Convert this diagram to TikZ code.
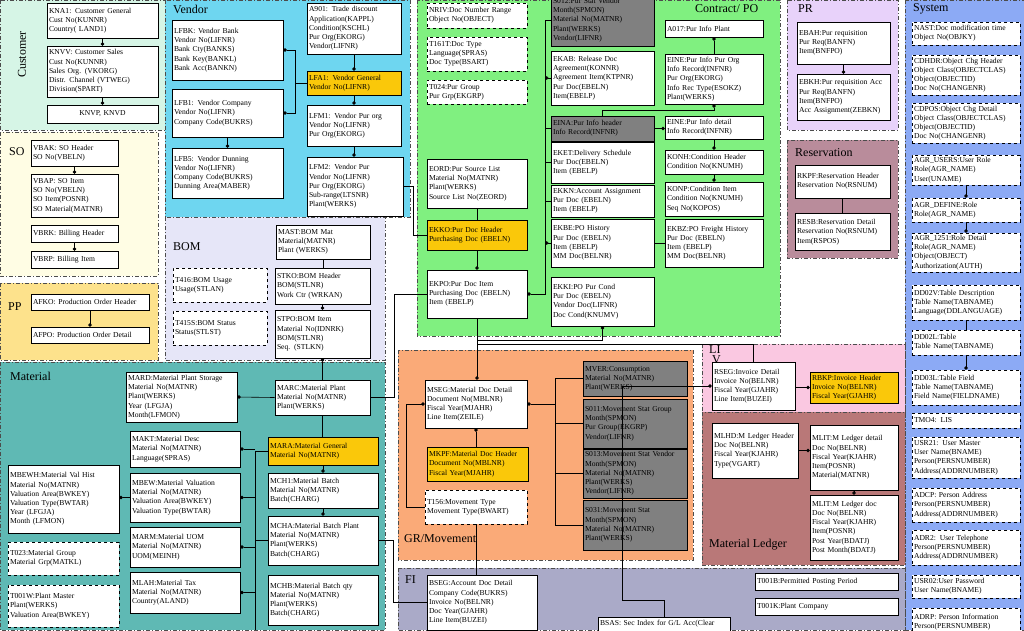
\documentclass[tikz,border=0pt]{standalone}
\usepackage{fontspec}
\setmainfont{Liberation Serif}
\usetikzlibrary{arrows.meta,positioning}
\definecolor{custc}{RGB}{214,245,230}
\definecolor{soc}{RGB}{255,253,228}
\definecolor{ppc}{RGB}{253,226,140}
\definecolor{vendc}{RGB}{110,214,240}
\definecolor{bomc}{RGB}{230,230,248}
\definecolor{poc}{RGB}{128,240,128}
\definecolor{prc}{RGB}{232,210,250}
\definecolor{resc}{RGB}{185,140,155}
\definecolor{sysc}{RGB}{140,170,245}
\definecolor{matc}{RGB}{95,185,180}
\definecolor{grc}{RGB}{250,170,120}
\definecolor{livc}{RGB}{250,200,225}
\definecolor{mlc}{RGB}{185,120,120}
\definecolor{fic}{RGB}{170,170,200}
\definecolor{keyc}{RGB}{250,200,10}
\definecolor{statc}{RGB}{128,128,128}

\begin{document}
\begin{tikzpicture}[x=1pt,y=-1pt,
  zone/.style={draw=black!70,line width=.6pt,dash pattern=on 4pt off 2pt on 1pt off 2pt},
  zlabel/.style={anchor=west,inner sep=0pt,font=\fontsize{12}{13}\selectfont},
  tbl/.style={draw,fill=white,line width=.6pt,align=left,inner xsep=2pt,inner ysep=1pt,
    font=\fontsize{7.6}{9.2}\selectfont},
  sz/.style 2 args={text width=#1pt-4pt,minimum height=#2pt},
  chk/.style={tbl,dashed},
  key/.style={tbl,fill=keyc},
  stat/.style={tbl,fill=statc},
  link/.style={draw,line width=.6pt},
  dot/.style={link,-{Circle[length=3.5pt]}},
  tod/.style={link,{Circle[length=3.5pt]}-}]
\useasboundingbox (0,0) rectangle (1024,630);
\fill[white] (0,0) rectangle (1024,630);

% areas
\draw[zone,fill=custc] (0,0) rectangle (165,130);
\draw[zone,fill=soc] (0,132) rectangle (158,276);
\draw[zone,fill=ppc] (0,283) rectangle (158,360);
\draw[zone,fill=vendc] (165,0) rectangle (410,217);
\draw[zone,fill=bomc] (165,217) rectangle (385,360);
\draw[zone,fill=poc] (417,0) rectangle (780,336);
\draw[zone,fill=prc] (787,0) rectangle (898,130);
\draw[zone,fill=resc] (787,140) rectangle (898,258);
\draw[zone,fill=sysc] (905,0) rectangle (1024,630);
\draw[zone,fill=matc] (0,362) rectangle (385,630);
\draw[zone,fill=grc] (398,350) rectangle (693,560);
\draw[zone,fill=livc] (702,344) rectangle (905,412);
\draw[zone,fill=mlc] (702,412) rectangle (905,565);
\draw[zone,fill=fic] (398,568) rectangle (905,630);

\node[zlabel,rotate=90] at (22,78) {Customer};
\node[zlabel] at (9,152) {SO};
\node[zlabel] at (8,307) {PP};
\node[zlabel] at (173,9) {Vendor};
\node[zlabel] at (173,247) {BOM};
\node[zlabel] at (695,9) {Contract/ PO};
\node[zlabel] at (798,9) {PR};
\node[zlabel] at (795,153) {Reservation};
\node[zlabel] at (913,9) {System};
\node[zlabel] at (10,376) {Material};
\node[zlabel] at (404,539) {GR/Movement};
\node[zlabel,align=left] at (709,355) {LI\\[-3pt]\hspace*{3pt}V};
\node[zlabel] at (709,545) {Material Ledger};
\node[zlabel] at (405,580) {FI};

% Customer, SO, PP
\node[tbl,sz={111}{35}] (kna1) at (102.5,20.5) {KNA1: Customer General\\Cust No(KUNNR)\\Country( LAND1)};
\node[tbl,sz={111}{51}] (knvv) at (102.5,71.5) {KNVV: Customer Sales\\Cust No(KUNNR)\\Sales Org. (VKORG)\\Distr. Channel (VTWEG)\\Division(SPART)};
\node[tbl,sz={111}{18},align=center] (knvp) at (102.5,114) {KNVP, KNVD};
\node[tbl,sz={87}{26}] (vbak) at (74.5,153) {VBAK: SO Header\\SO No(VBELN)};
\node[tbl,sz={87}{43}] (vbap) at (74.5,195.5) {VBAP: SO Item\\SO No(VBELN)\\SO Item(POSNR)\\SO Material(MATNR)};
\node[tbl,sz={87}{17}] (vbrk) at (74.5,233.5) {VBRK: Billing Header};
\node[tbl,sz={87}{17}] (vbrp) at (74.5,259.5) {VBRP: Billing Item};
\node[tbl,sz={118}{16}] (afko) at (90,302) {AFKO: Production Order Header};
\node[tbl,sz={118}{16}] (afpo) at (90,335) {AFPO: Production Order Detail};

% Vendor
\node[tbl,sz={111}{60}] (lfbk) at (227.5,50) {LFBK: Vendor Bank\\Vendor No(LIFNR)\\Bank Cty(BANKS)\\Bank Key(BANKL)\\Bank Acc(BANKN)};
\node[tbl,sz={111}{48}] (lfb1) at (227.5,113) {LFB1: Vendor Company\\Vendor No(LIFNR)\\Company Code(BUKRS)};
\node[tbl,sz={111}{50}] (lfb5) at (227.5,173) {LFB5: Vendor Dunning\\Vendor No(LIFNR)\\Company Code(BUKRS)\\Dunning Area(MABER)};
\node[tbl,sz={94}{51}] (a901) at (354,28.5) {A901: Trade discount\\Application(KAPPL)\\Condition(KSCHL)\\Pur Org(EKORG)\\Vendor(LIFNR)};
\node[key,sz={94}{24}] (lfa1) at (354,83) {LFA1: Vendor General\\Vendor No(LIFNR)};
\node[tbl,sz={94}{41}] (lfm1) at (354,125.5) {LFM1: Vendor Pur org\\Vendor No(LIFNR)\\Pur Org(EKORG)};
\node[tbl,sz={96}{59}] (lfm2) at (355,186.5) {LFM2: Vendor Pur\\Vendor No(LIFNR)\\Pur Org(EKORG)\\Sub-range(LTSNR)\\Plant(WERKS)};

% BOM
\node[tbl,sz={94}{34}] (mast) at (323,242) {MAST:BOM Mat\\Material(MATNR)\\Plant (WERKS)};
\node[tbl,sz={95}{36}] (stko) at (322.5,286) {STKO:BOM Header\\BOM(STLNR)\\Work Ctr (WRKAN)};
\node[tbl,sz={95}{48}] (stpo) at (322.5,334) {STPO:BOM Item\\Material No(IDNRK)\\BOM(STLNR)\\Seq. (STLKN)};
\node[chk,sz={94}{34}] (t416) at (220,285) {T416:BOM Usage\\Usage(STLAN)};
\node[chk,sz={94}{34}] (t415s) at (220,328) {T415S:BOM Status\\Status(STLST)};

% Contract / PO
\node[chk,sz={100}{25}] (nriv) at (477,15.5) {NRIV:Doc Number Range\\Object No(OBJECT)};
\node[chk,sz={100}{34}] (t161t) at (477,54) {T161T:Doc Type\\Language(SPRAS)\\Doc Type(BSART)};
\node[chk,sz={100}{24}] (t024) at (477,92) {T024:Pur Group\\Pur Grp(EKGRP)};
\node[tbl,sz={100}{49}] (eord) at (477,183.5) {EORD:Pur Source List\\Material No(MATNR)\\Plant(WERKS)\\Source List No(ZEORD)};
\node[key,sz={100}{30}] (ekko) at (477,235) {EKKO:Pur Doc Header\\Purchasing Doc (EBELN)};
\node[tbl,sz={100}{48}] (ekpo) at (477,294) {EKPO:Pur Doc Item\\Purchasing Doc (EBELN)\\Item (EBELP)};
\node[stat,sz={103}{52}] (s012) at (602.5,20) {S012:Pur Stat Vendor\\Month(SPMON)\\Material No(MATNR)\\Plant(WERKS)\\Vendor(LIFNR)};
\node[tbl,sz={103}{54}] (ekab) at (602.5,78) {EKAB: Release Doc\\Agreement(KONNR)\\Agreement Item(KTPNR)\\Pur Doc(EBELN)\\Item(EBELP)};
\node[stat,sz={103}{25}] (eina) at (602.5,128.5) {EINA:Pur Info header\\Info Record(INFNR)};
\node[tbl,sz={103}{41}] (eket) at (602.5,162.5) {EKET:Delivery Schedule\\Pur Doc(EBELN)\\Item (EBELP)};
\node[tbl,sz={103}{32}] (ekkn) at (602.5,201) {EKKN:Account Assignment\\Pur Doc (EBELN)\\Item (EBELP)};
\node[tbl,sz={103}{48}] (ekbe) at (602.5,243) {EKBE:PO History\\Pur Doc (EBELN)\\Item (EBELP)\\MM Doc(BELNR)};
\node[tbl,sz={103}{49}] (ekki) at (602.5,301.5) {EKKI:PO Pur Cond\\Pur Doc (EBELN)\\Vendor Doc(LIFNR)\\Doc Cond(KNUMV)};
\node[tbl,sz={98}{17}] (a017) at (714,28.5) {A017:Pur Info Plant};
\node[tbl,sz={98}{50}] (eine1) at (714,79) {EINE:Pur Info Pur Org\\Info Record(INFNR)\\Pur Org(EKORG)\\Info Rec Type(ESOKZ)\\Plant(WERKS)};
\node[tbl,sz={98}{23}] (eine2) at (714,127.5) {EINE:Pur Info detail\\Info Record(INFNR)};
\node[tbl,sz={98}{24}] (konh) at (714,162) {KONH:Condition Header\\Condition No(KNUMH)};
\node[tbl,sz={98}{34}] (konp) at (714,199) {KONP:Condition Item\\Condition No(KNUMH)\\Seq No(KOPOS)};
\node[tbl,sz={98}{48}] (ekbz) at (714,243) {EKBZ:PO Freight History\\Pur Doc (EBELN)\\Item (EBELP)\\MM Doc(BELNR)};

% PR, Reservation
\node[tbl,sz={93}{42}] (ebah) at (843.5,43) {EBAH:Pur requisition\\Pur Req(BANFN)\\Item(BNFPO)};
\node[tbl,sz={93}{46}] (ebkh) at (843.5,97) {EBKH:Pur requisition Acc\\Pur Req(BANFN)\\Item(BNFPO)\\Acc Assignment(ZEBKN)};
\node[tbl,sz={95}{33}] (rkpf) at (842.5,181.5) {RKPF:Reservation Header\\Reservation No(RSNUM)};
\node[tbl,sz={95}{37}] (resb) at (842.5,232) {RESB:Reservation Detail\\Reservation No(RSNUM)\\Item(RSPOS)};

% System
\node[chk,sz={108}{23}] (nast) at (966,33.5) {NAST:Doc modification time\\Object No(OBJKY)};
\node[chk,sz={108}{40}] (cdhdr) at (966,75) {CDHDR:Object Chg Header\\Object Class(OBJECTCLAS)\\Object(OBJECTID)\\Doc No(CHANGENR)};
\node[chk,sz={108}{40}] (cdpos) at (966,123) {CDPOS:Object Chg Detail\\Object Class(OBJECTCLAS)\\Object(OBJECTID)\\Doc No(CHANGENR)};
\node[chk,sz={108}{30}] (agrusers) at (966,170) {AGR\_USERS:User Role\\Role(AGR\_NAME)\\User(UNAME)};
\node[chk,sz={108}{24}] (agrdefine) at (966,210) {AGR\_DEFINE:Role\\Role(AGR\_NAME)};
\node[chk,sz={108}{39}] (agrauth) at (966,252.5) {AGR\_1251:Role Detail\\Role(AGR\_NAME)\\Object(OBJECT)\\Authorization(AUTH)};
\node[chk,sz={108}{35}] (dd02v) at (966,302.5) {DD02V:Table Description\\Table Name(TABNAME)\\Language(DDLANGUAGE)};
\node[chk,sz={108}{25}] (dd02l) at (966,342.5) {DD02L:Table\\Table Name(TABNAME)};
\node[chk,sz={108}{35}] (dd03l) at (966,387.5) {DD03L:Table Field\\Table Name(TABNAME)\\Field Name(FIELDNAME)};
\node[chk,sz={108}{15}] (tmo4) at (966,420.5) {TMO4: LIS};
\node[chk,sz={108}{41}] (usr21) at (966,457.5) {USR21: User Master\\User Name(BNAME)\\Person(PERSNUMBER)\\Address(ADDRNUMBER)};
\node[chk,sz={108}{34}] (adcp) at (966,505) {ADCP: Person Address\\Person(PERSNUMBER)\\Address(ADDRNUMBER)};
\node[chk,sz={108}{35}] (adr2) at (966,547.5) {ADR2: User Telephone\\Person(PERSNUMBER)\\Address(ADDRNUMBER)};
\node[chk,sz={108}{23}] (usr02) at (966,586.5) {USR02:User Password\\User Name(BNAME)};
\node[chk,sz={108}{28}] (adrp) at (966,622) {ADRP: Person Information\\Person(PERSNUMBER)};

% Material
\node[tbl,sz={111}{50}] (mard) at (181.5,397) {MARD:Material Plant Storage\\Material No(MATNR)\\Plant(WERKS)\\Year (LFGJA)\\Month(LFMON)};
\node[tbl,sz={95}{35}] (marc) at (322.5,397.5) {MARC:Material Plant\\Material No(MATNR)\\Plant(WERKS)};
\node[tbl,sz={110}{36}] (makt) at (185,449) {MAKT:Material Desc\\Material No(MATNR)\\Language(SPRAS)};
\node[key,sz={110}{28}] (mara) at (323,451) {MARA:Material General\\Material No(MATNR)};
\node[tbl,sz={110}{35}] (mch1) at (323,490.5) {MCH1:Material Batch\\Material No(MATNR)\\Batch(CHARG)};
\node[tbl,sz={110}{49}] (mbew) at (185,497.5) {MBEW:Material Valuation\\Material No(MATNR)\\Valuation Area(BWKEY)\\Valuation Type(BWTAR)};
\node[tbl,sz={111}{68}] (mbewh) at (63.5,499) {MBEWH:Material Val Hist\\Material No(MATNR)\\Valuation Area(BWKEY)\\Valuation Type(BWTAR)\\Year (LFGJA)\\Month (LFMON)};
\node[tbl,sz={110}{49}] (mcha) at (323,540.5) {MCHA:Material Batch Plant\\Material No(MATNR)\\Plant(WERKS)\\Batch(CHARG)};
\node[tbl,sz={110}{40}] (marm) at (185,547) {MARM:Material UOM\\Material No(MATNR)\\UOM(MEINH)};
\node[chk,sz={111}{33}] (t023) at (63.5,558.5) {T023:Material Group\\Material Grp(MATKL)};
\node[tbl,sz={110}{41}] (mlah) at (185,592.5) {MLAH:Material Tax\\Material No(MATNR)\\Country(ALAND)};
\node[chk,sz={111}{42}] (t001w) at (63.5,606) {T001W:Plant Master\\Plant(WERKS)\\Valuation Area(BWKEY)};
\node[tbl,sz={110}{50}] (mchb) at (323,600) {MCHB:Material Batch qty\\Material No(MATNR)\\Plant(WERKS)\\Batch(CHARG)};

% GR/Movement
\node[tbl,sz={102}{48}] (mseg) at (476,404) {MSEG:Material Doc Detail\\Document No(MBLNR)\\Fiscal Year(MJAHR)\\Line Item(ZEILE)};
\node[key,sz={101}{34}] (mkpf) at (477.5,464) {MKPF:Material Doc Header\\Document No(MBLNR)\\Fiscal Year(MJAHR)};
\node[chk,sz={102}{34}] (t156) at (476,507) {T156:Movement Type\\Movement Type(BWART)};
\node[stat,sz={104}{35}] (mver) at (635,378.5) {MVER:Consumption\\Material No(MATNR)\\Plant(WERKS)};
\node[stat,sz={104}{49}] (s011) at (635,423.5) {S011:Movement Stat Group\\Month(SPMON)\\Pur Group(EKGRP)\\Vendor(LIFNR)};
\node[stat,sz={104}{49}] (s013) at (635,473.5) {S013:Movement Stat Vendor\\Month(SPMON)\\Material No(MATNR)\\Plant(WERKS)\\Vendor(LIFNR)};
\node[stat,sz={104}{50}] (s031) at (635,525) {S031:Movement Stat\\Month(SPMON)\\Material No(MATNR)\\Plant(WERKS)};

% LIV, Material Ledger, FI
\node[tbl,sz={83}{48}] (rseg) at (753.5,386) {RSEG:Invoice Detail\\Invoice No(BELNR)\\Fiscal Year(GJAHR)\\Line Item(BUZEI)};
\node[key,sz={88}{31}] (rbkp) at (854,387.5) {RBKP:Invoice Header\\Invoice No(BELNR)\\Fiscal Year(GJAHR)};
\node[tbl,sz={86}{55}] (mlhd) at (755,450.5) {MLHD:M Ledger Header\\Doc No(BELNR)\\Fiscal Year(KJAHR)\\Type(VGART)};
\node[tbl,sz={88}{65}] (mlit1) at (854,457.5) {MLIT:M Ledger detail\\Doc No(BELNR)\\Fiscal Year(KJAHR)\\Item(POSNR)\\Material(MATNR)};
\node[tbl,sz={88}{65}] (mlit2) at (854,527.5) {MLIT:M Ledger doc\\Doc No(BELNR)\\Fiscal Year(KJAHR)\\Item(POSNR)\\Post Year(BDATJ)\\Post Month(BDATJ)};
\node[tbl,sz={143}{17}] (t001b) at (826.5,581.5) {T001B:Permitted Posting Period};
\node[tbl,sz={143}{17}] (t001k) at (826.5,606.5) {T001K:Plant Company};
\node[tbl,sz={110}{55}] (bseg) at (482,602.5) {BSEG:Account Doc Detail\\Company Code(BUKRS)\\Invoice No(BELNR)\\Doc Year(GJAHR)\\Line Item(BUZEI)};
\node[tbl,sz={132}{14}] (bsas) at (664,624) {BSAS: Sec Index for G/L Acc(Clear};

% links inside areas
\draw[dot] (kna1.south) -- (knvv.north);
\draw[dot] (knvv.south) -- (knvp.north);
\draw[dot] (vbak.south) -- (vbap.north);
\draw[dot] (vbrk.south) -- (vbrp.north);
\draw[dot] (afko.south) -- (afpo.north);
\coordinate (vj) at (295,83);
\draw[dot] (vj) |- (lfbk.east);
\draw[dot] (vj) |- (lfb1.east);
\draw[link] (lfa1.west) -- (vj);
\draw[dot] (lfb1.south) -- (lfb5.north);
\draw[dot] (a901.south) -- (lfa1.north);
\draw[dot] (lfa1.south) -- (lfm1.north);
\draw[dot] (lfm1.south) -- (lfm1.south |- lfm2.north);
\draw[link] (lfm2.east) -- ++(10,0) |- (ekko.west);
\draw[link] (mast.south) -- (mast.south |- stko.north);
\draw[dot] (stko.south) -- (stpo.north);
\draw[tod] (stpo.south) -- (marc.north);
\draw[dot] (marc.west) -- (mard.east);
\draw[link] (marc.south) -- (marc.south |- mara.north);
\draw[link] (marc.east) -- (394,397.5) |- (ekpo.west);
\draw[dot] (mara.south) -- (mch1.north);
\draw[dot] (mch1.south) -- (mcha.north);
\coordinate (mb) at (255,451);
\draw[link] (mara.west) -- (mb) -- (255,630);
\draw[dot] (mb |- makt.east) -- (makt.east);
\draw[dot] (mb |- mbew.east) -- (mbew.east);
\draw[dot] (mb |- marm.east) -- (marm.east);
\draw[dot] (mb |- mlah.east) -- (mlah.east);
\draw[link] (mb |- mcha.west) -- (mcha.west);
\draw[dot] (mbew.west) -- (mbew.west -| mbewh.east);
\draw[link] (mcha.east) -| (393,602.5) -- (bseg.west);

\draw[link] (ekko.north) -- (eord.south);
\draw[dot] (ekko.south) -- (ekpo.north);
\coordinate (pb) at (545,294);
\draw[tod] (ekpo.east) -- (pb) |- (s012.west);
\draw[dot] (ekab.west) -- (pb |- ekab.west);
\draw[link] (pb |- eina.west) -- (eina.west);
\draw[link] (pb |- eket.west) -- (eket.west);
\draw[link] (pb |- ekkn.west) -- (ekkn.west);
\draw[dot] (ekbe.west) -- (pb |- ekbe.west);
\draw[link] (ekbe.east) -- (ekbz.west);
\draw[tod] (a017.south) -- (eine1.north);
\draw[tod] (eine1.south) -- ++(0,6) -| (eina.north);
\draw[dot] (eina.east) -- (eina.east -| eine2.west);
\draw[dot] (eine2.south) -- (konh.north);
\draw[dot] (konh.south) -- (konp.north);

% links between areas
\draw[tod] (ekki.south) |- (477,340);
\coordinate (pj) at (477,344);
\draw[link] (ekpo.south) -- (pj) -| (rseg.north);
\draw[dot] (pj) -- (pj |- mseg.north);
\draw[tod] (mseg.west) -- ++(-18,0) |- (t156.west);
\draw[tod] (mseg.south) -- (mseg.south |- mkpf.north);
\coordinate (gb) at (555,404);
\draw[tod] (mseg.east) -- (gb);
\draw[link] (gb |- mver.west) -- (gb |- s031.west);
\draw[link] (gb |- mver.west) -- (mver.west);
\draw[link] (gb |- s011.west) -- (s011.west);
\draw[link] (gb |- s013.west) -- (s013.west);
\draw[link] (gb |- s031.west) -- (s031.west);
\draw[link] (t156.south) -- (t156.south |- bseg.north);
\coordinate (lj) at (622,386);
\draw[dot] (lj) -- (rseg.west);
\draw[link] (lj) -- (622,600) -| (bsas.north);
\draw[tod] (rbkp.west) -- (rbkp.west -| rseg.east);
\draw[dot] (mlhd.east) -- (mlhd.east -| mlit1.west);
\draw[dot] (mlit1.south) -- (mlit2.north);
\draw[dot] (ebah.south) -- (ebkh.north);
\draw[link] (rkpf.south) -- (resb.north);
\draw[dot] (agrusers.south) -- (agrdefine.north);
\draw[dot] (agrdefine.south) -- (agrauth.north);
\draw[link] (dd02v.south) -- (dd02l.north);
\draw[dot] (dd02l.south) -- (dd03l.north);
\end{tikzpicture}
\end{document}
